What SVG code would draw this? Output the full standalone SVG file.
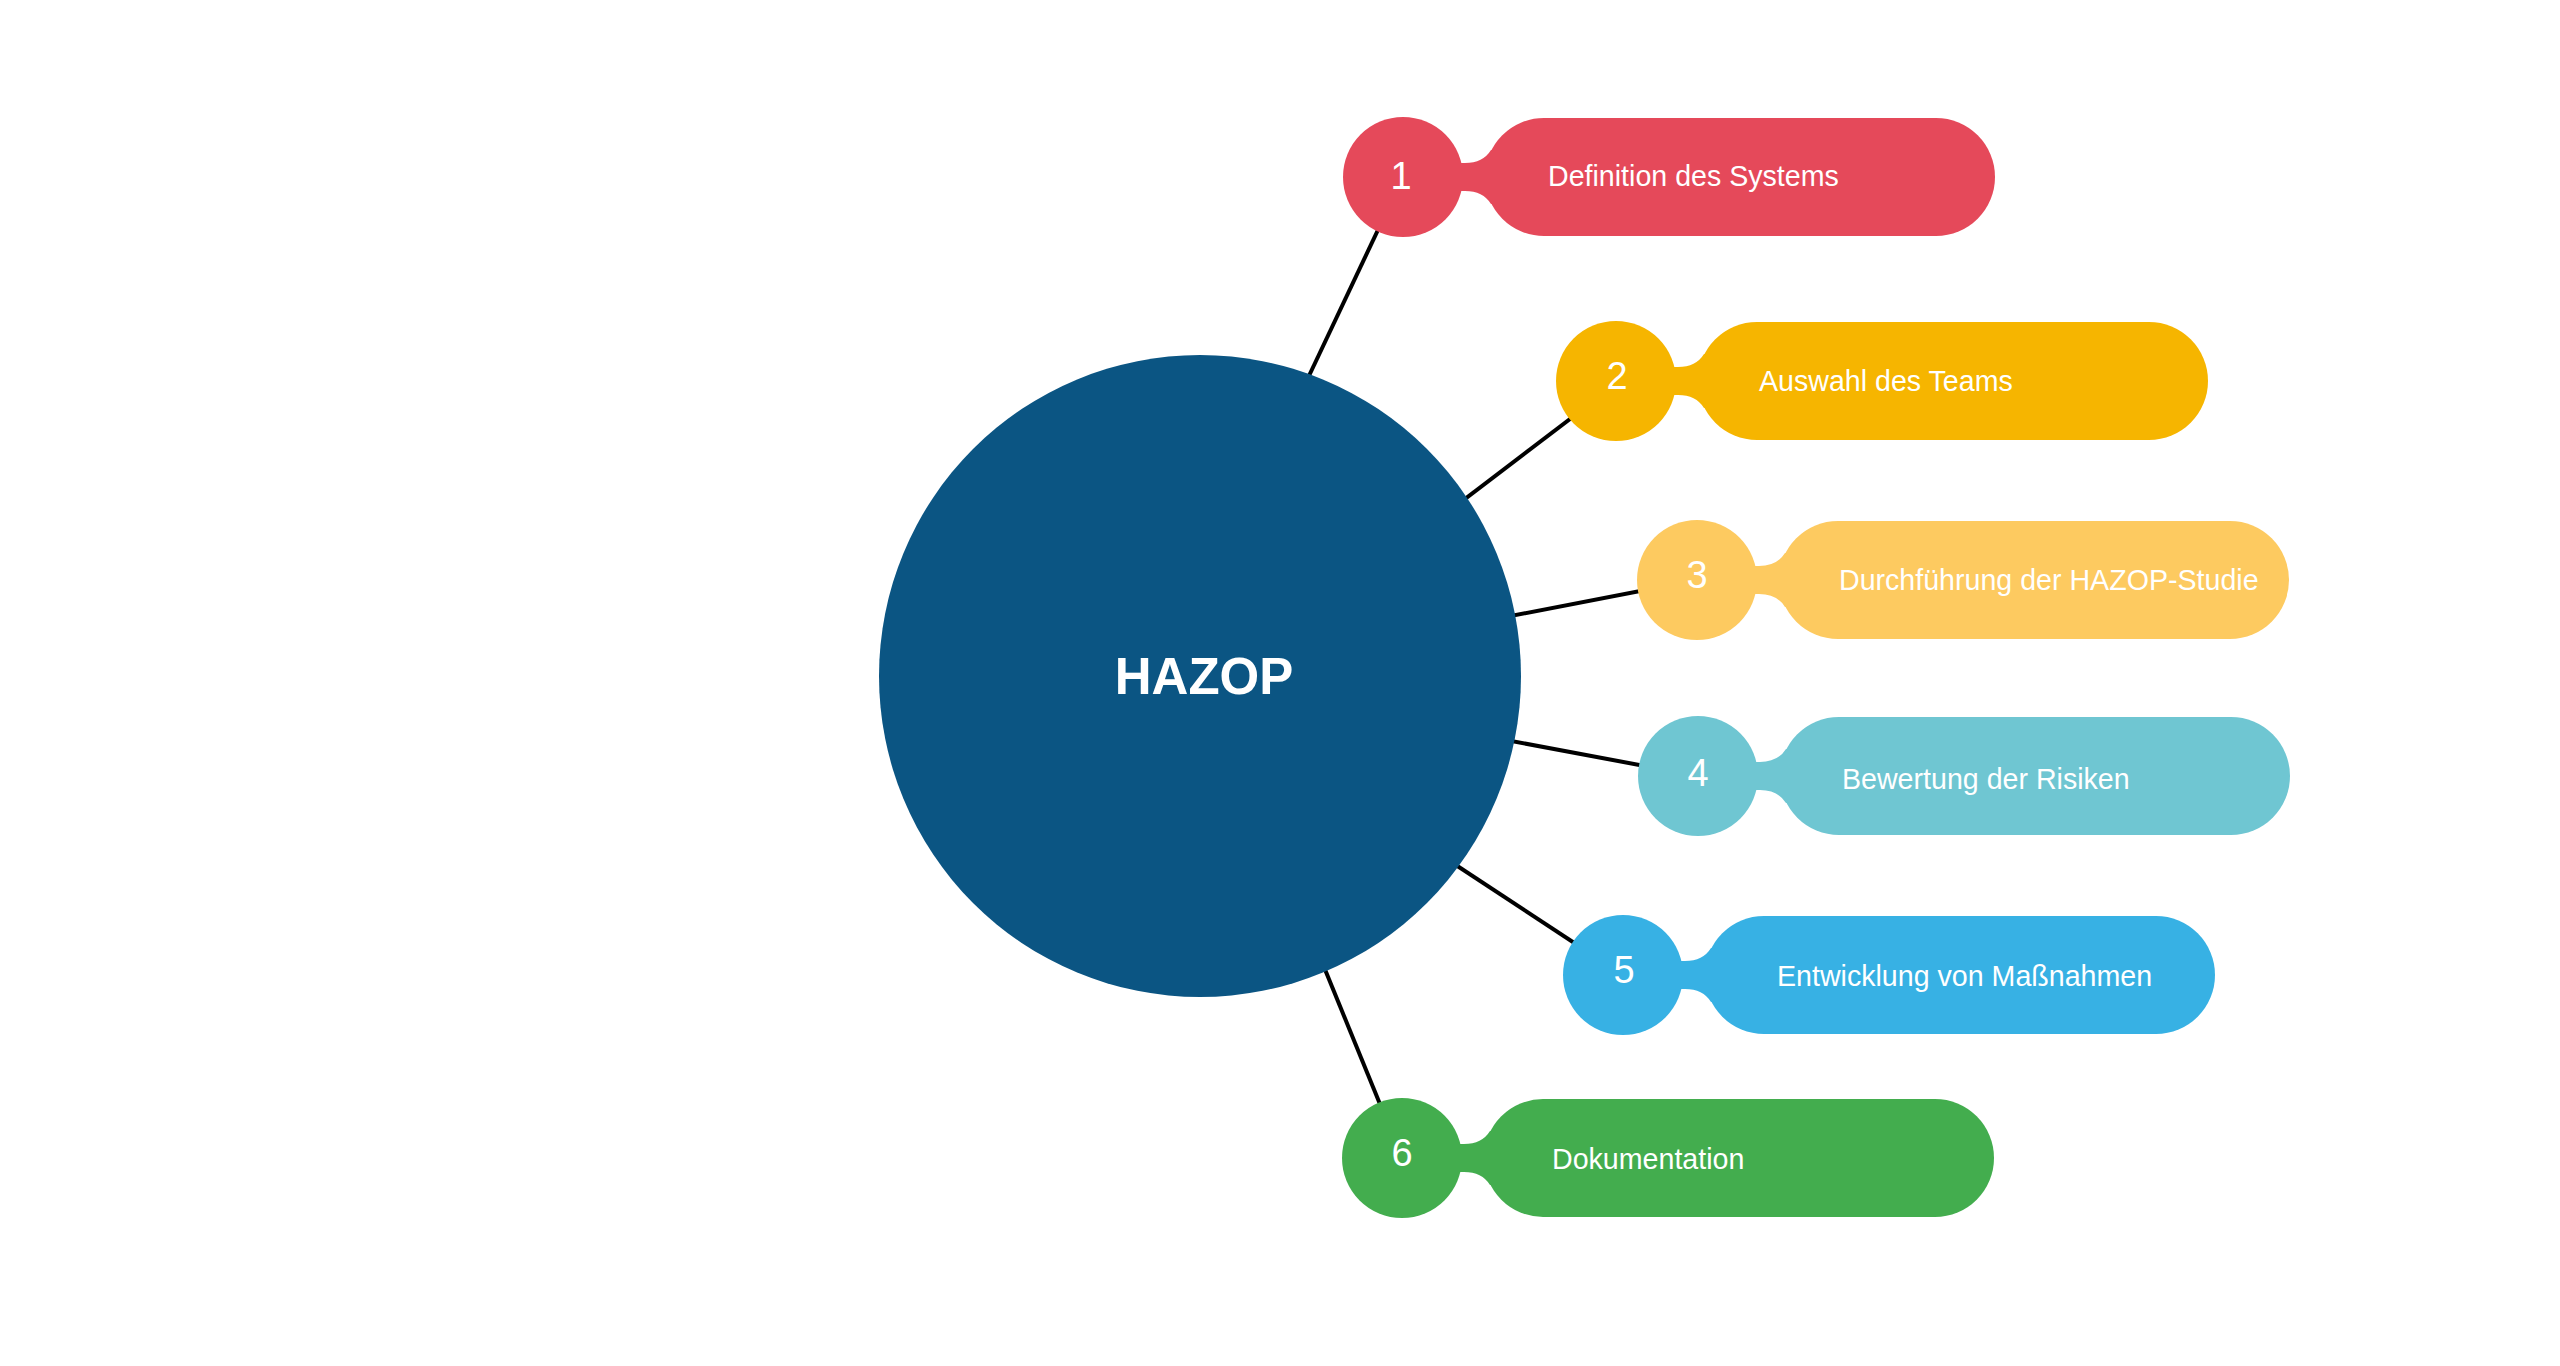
<svg xmlns="http://www.w3.org/2000/svg" xmlns:xlink="http://www.w3.org/1999/xlink" width="2560" height="1366" viewBox="0 0 2560 1366">
<style>
.conn{stroke:#000;stroke-width:4;fill:none}
.num{font-family:"Liberation Sans",Arial,sans-serif;font-size:38px;fill:#fff;text-anchor:middle}
.lbl{font-family:"Liberation Sans",Arial,sans-serif;font-size:28.6px;fill:#fff}
.title{font-family:"Liberation Sans",Arial,sans-serif;font-size:51px;font-weight:bold;fill:#fff;text-anchor:middle}
</style>
<defs>
<g id="bubble">
<circle cx="0" cy="0" r="60"/>
<rect x="82" y="-59" width="510" height="118" rx="59" ry="59"/>
<path d="M50,-14 L62,-14 Q80,-14 88,-27 L100,-27 L100,27 L88,27 Q80,14 62,14 L50,14 Z"/>
</g>
</defs>
<rect width="2560" height="1366" fill="#fff"/>
<g id="connectors">
<line class="conn" x1="1290" y1="416" x2="1403" y2="177"/>
<line class="conn" x1="1440" y1="518" x2="1616" y2="384"/>
<line class="conn" x1="1490" y1="620" x2="1697" y2="580"/>
<line class="conn" x1="1490" y1="737" x2="1698" y2="776"/>
<line class="conn" x1="1430" y1="848" x2="1623" y2="975"/>
<line class="conn" x1="1315" y1="945" x2="1402" y2="1158"/>
</g>
<g id="hazop">
<circle cx="1200" cy="676" r="321" fill="#0b5583"/>
<text class="title" x="1204" y="694">HAZOP</text>
</g>
<g id="node1" transform="translate(1403,177)">
<use xlink:href="#bubble" fill="#e5495a"/>
<text class="num" x="-2" y="12">1</text>
<text class="lbl" x="145" y="9">Definition des Systems</text>
</g>
<g id="node2" transform="translate(1616,381)">
<use xlink:href="#bubble" fill="#f6b500"/>
<text class="num" x="1" y="8">2</text>
<text class="lbl" x="143" y="10">Auswahl des Teams</text>
</g>
<g id="node3" transform="translate(1697,580)">
<use xlink:href="#bubble" fill="#fdca60"/>
<text class="num" x="0" y="8">3</text>
<text class="lbl" x="142" y="10">Durchführung der HAZOP-Studie</text>
</g>
<g id="node4" transform="translate(1698,776)">
<use xlink:href="#bubble" fill="#6fc6d2"/>
<text class="num" x="0" y="10">4</text>
<text class="lbl" x="144" y="13">Bewertung der Risiken</text>
</g>
<g id="node5" transform="translate(1623,975)">
<use xlink:href="#bubble" fill="#37b1e4"/>
<text class="num" x="1" y="8">5</text>
<text class="lbl" x="154" y="11">Entwicklung von Maßnahmen</text>
</g>
<g id="node6" transform="translate(1402,1158)">
<use xlink:href="#bubble" fill="#43ad4e"/>
<text class="num" x="0" y="8">6</text>
<text class="lbl" x="150" y="11">Dokumentation</text>
</g>
</svg>
